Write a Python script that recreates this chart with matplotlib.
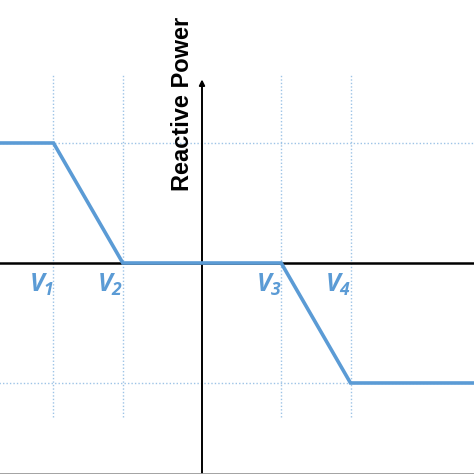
import matplotlib.pyplot as plt

# breakpoints of the volt-var curve
v_names = ["1", "2", "3", "4"]
v_points = [-1.5, -0.8, 0.8, 1.5]
q_max = 1.0
q_min = -1.0

# curve: flat q_max, ramp to 0, flat 0, ramp to q_min, flat
curve_x = [-2.1, v_points[0], v_points[1], v_points[2], v_points[3], 2.8]
curve_q = [q_max, q_max, 0, 0, q_min, q_min]

blue = "#5b9bd5"
grid_blue = "#9dc3e6"

plt.rcParams["mathtext.fontset"] = "custom"
plt.rcParams["mathtext.bfit"] = "Open Sans:bold:italic"
plt.rcParams["mathtext.bf"] = "Open Sans:bold:italic"

fig = plt.figure(figsize=(4.74, 4.74), dpi=100)
ax = fig.add_axes([0, 0, 1, 1])
ax.set_xlim(-202 / 99, 272 / 99)
ax.set_ylim(-211 / 120, 263 / 120)
ax.axis("off")

# dotted guide lines
for v in v_points:
    ax.plot([v, v], [-1.28, 1.57], ls=(0, (1, 1.5)), color=grid_blue, lw=1, zorder=1)
for q in [q_max, q_min]:
    ax.plot([-2.1, 2.8], [q, q], ls=(0, (1, 1.5)), color=grid_blue, lw=1, zorder=1)

# axes
ax.plot([-2.1, 2.8], [0, 0], color="black", lw=1.8, zorder=2)
ax.annotate("", xy=(0, 1.53), xytext=(0, -1.8),
            arrowprops=dict(arrowstyle="-|>", color="black", lw=1.4,
                            mutation_scale=8, shrinkA=0, shrinkB=0), zorder=2)

ax.plot(curve_x, curve_q, color=blue, lw=2.6, zorder=3, solid_joinstyle="miter")

for name, v in zip(v_names, v_points):
    ax.text(v + 0.01, -0.18, r"$\mathbf{V_{%s}}$" % name, color=blue,
            fontsize=18, ha="right", va="center", zorder=4)

ax.text(-0.2, 1.33, "Reactive Power", rotation=90, fontsize=17,
        fontweight="bold", family="Liberation Sans", ha="center", va="center")

# thin grey border at bottom edge
ax.plot([-2.1, 2.8], [-1.755, -1.755], color="#999999", lw=2, zorder=5)

fig.savefig("out.png", dpi=100)
